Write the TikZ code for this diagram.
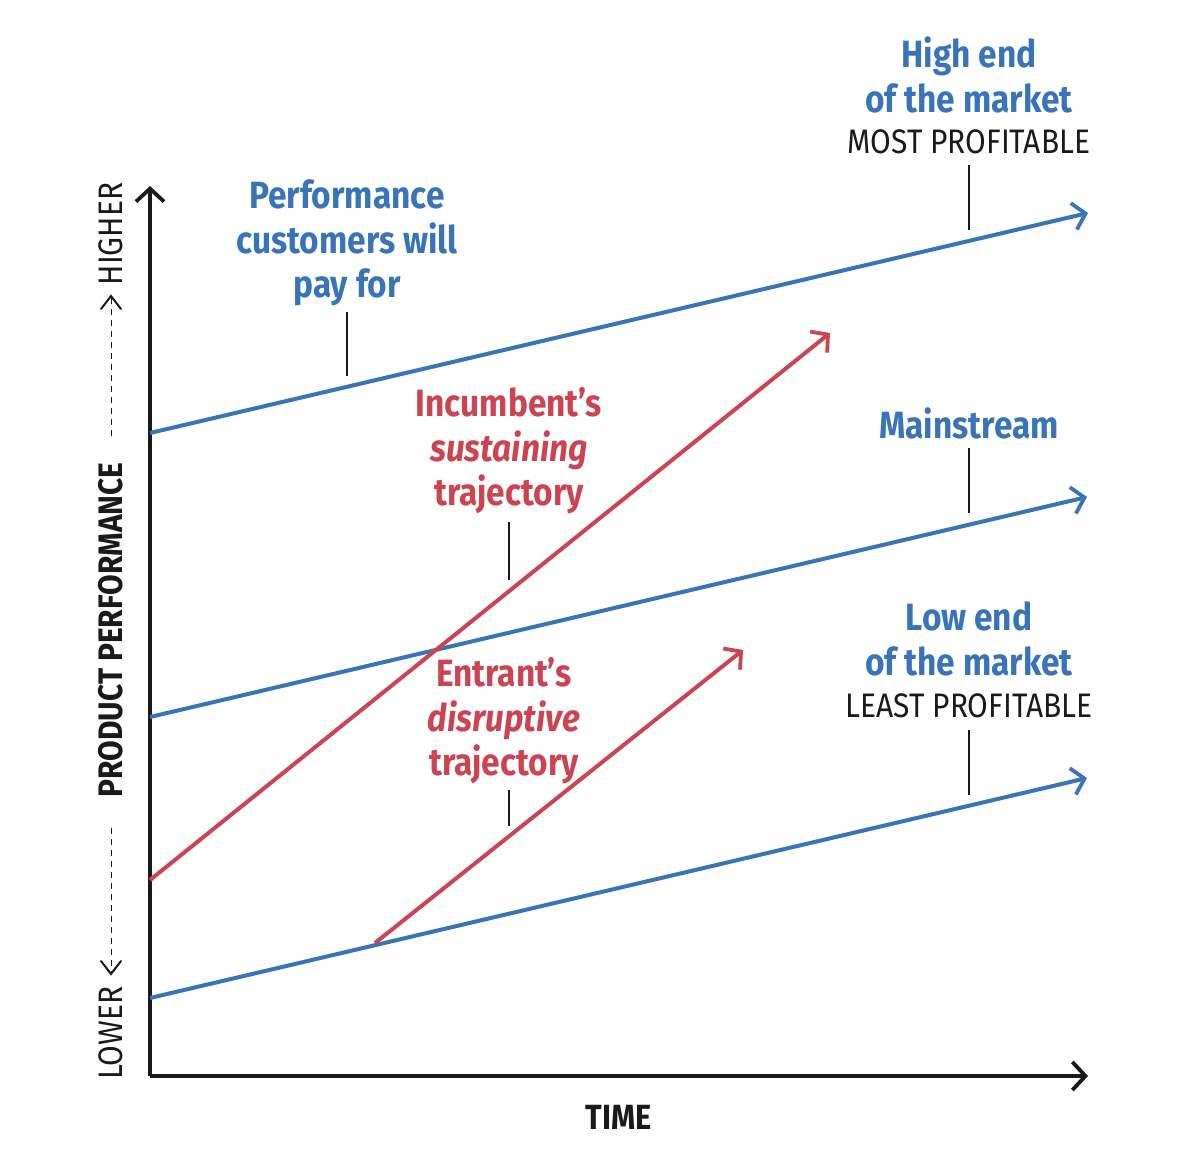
\documentclass[tikz,border=0pt]{standalone}
\usepackage{fontspec}
\setmainfont{Fira Sans}[FakeStretch=0.88]
\usetikzlibrary{arrows.meta}
\definecolor{cblue}{HTML}{3A74B8}
\definecolor{cred}{HTML}{CC4452}
\definecolor{cblack}{HTML}{1A1A1A}
\begin{document}
\begin{tikzpicture}[x=1pt,y=-1pt,
  blueline/.style={draw=cblue,line width=4pt,-{Straight Barb[length=12pt,width=27pt,line width=3.8pt]}},
  redline/.style={draw=cred,line width=4pt,-{Straight Barb[length=12pt,width=27pt,line width=3.8pt]}},
  axisline/.style={draw=cblack,line width=4pt,-{Straight Barb[length=13pt,width=28pt,line width=3.8pt]}},
  leader/.style={draw=cblack,line width=1.2pt},
  bluetxt/.style={text=cblue,font=\fontsize{38}{44.5}\selectfont\bfseries,align=center,inner sep=0pt},
  redtxt/.style={text=cred,font=\fontsize{38}{44.5}\selectfont\bfseries,align=center,inner sep=0pt},
  blktxt/.style={text=cblack,font=\fontsize{34}{36}\selectfont,inner sep=0pt},
  ylab/.style={text=cblack,font=\fontsize{34}{36}\selectfont,inner sep=0pt,rotate=90},
  dashy/.style={draw=cblack,line width=1pt,dash pattern=on 6pt off 5pt},
  dashtip/.style={draw=cblack,line width=2pt,line cap=round,line join=miter}
]
\useasboundingbox (0,0) rectangle (1188,1164);
% axes
\coordinate (O) at (150,1076);
\coordinate (Ytop) at (150,186);
\coordinate (Xend) at (1088,1076);
\draw[axisline] (O) -- (Ytop);
\draw[axisline] (O) -- (Xend);
% blue lines
\coordinate (h0) at (150,433); \coordinate (h1) at (1088,213);
\coordinate (m0) at (150,717); \coordinate (m1) at (1087,497);
\coordinate (l0) at (150,998); \coordinate (l1) at (1087,778);
\draw[blueline] (h0) -- (h1);
\draw[blueline] (m0) -- (m1);
\draw[blueline] (l0) -- (l1);
% red lines
\coordinate (i0) at (150,880); \coordinate (i1) at (830,333);
\coordinate (e0) at (375,943); \coordinate (e1) at (743,650);
\draw[redline] (i0) -- (i1);
\draw[redline] (e0) -- (e1);
% leaders
\coordinate (pa) at (347,312); \coordinate (pb) at (347,376);
\coordinate (ha) at (969,165); \coordinate (hb) at (969,230);
\coordinate (ma) at (969,448); \coordinate (mb) at (969,513);
\coordinate (la) at (969,730); \coordinate (lb) at (969,795);
\coordinate (ia) at (509,522); \coordinate (ib) at (509,580);
\coordinate (ea) at (509,790); \coordinate (eb) at (509,826);
\draw[leader] (pa) -- (pb);
\draw[leader] (ha) -- (hb);
\draw[leader] (ma) -- (mb);
\draw[leader] (la) -- (lb);
\draw[leader] (ia) -- (ib);
\draw[leader] (ea) -- (eb);
% texts
\node[bluetxt] (perf) at (347,243) {Performance\\customers will\\pay for};
\node[bluetxt] (high) at (969,75) {High end\\of the market};
\node[blktxt] (most) at (969,142) {MOST PROFITABLE};
\node[bluetxt] (main) at (969,423) {Mainstream};
\node[bluetxt] (low) at (969,639) {Low end\\of the market};
\node[blktxt] (least) at (969,706) {LEAST PROFITABLE};
\node[redtxt] (inc) at (509,451) {Incumbent’s\\\textit{sustaining}\\trajectory};
\node[redtxt] (ent) at (504,721) {Entrant’s\\\textit{disruptive}\\trajectory};
\node[blktxt,font=\fontsize{35}{36}\selectfont\bfseries] (time) at (619,1117) {TIME};
% y-axis label
\node[ylab] (lower) at (111,1033) {LOWER};
\node[ylab,font=\fontsize{34}{36}\selectfont\bfseries] (pp) at (111,630) {PRODUCT PERFORMANCE};
\node[ylab] (higher) at (111,234) {HIGHER};
\coordinate (d1a) at (111,828); \coordinate (d1b) at (111,972);
\coordinate (d2a) at (111,436); \coordinate (d2b) at (111,298);
\draw[dashy] (d1a) -- (d1b);
\draw[dashy] (d2a) -- (d2b);
\draw[dashtip] (101,961) -- (111,974) -- (121,961);
\draw[dashtip] (101,309) -- (111,296) -- (121,309);
\end{tikzpicture}
\end{document}
